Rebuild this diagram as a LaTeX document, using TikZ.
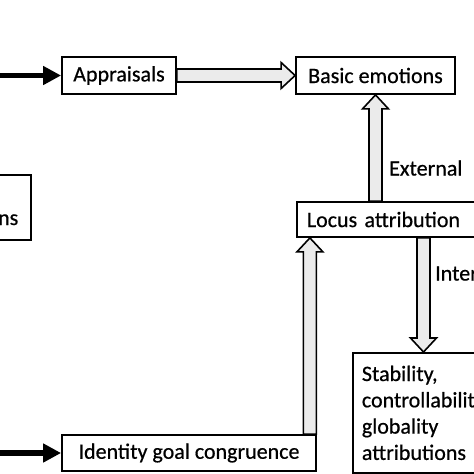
\documentclass[tikz,border=0pt]{standalone}
\usepackage{fontspec}
\setmainfont{Carlito}[FakeBold=0.6]
\usetikzlibrary{calc,arrows.meta}
\tikzset{
  box/.style={draw=black, line width=1.8pt, fill=white, inner sep=0pt, font=\fontsize{22}{26.3}\selectfont},
  hollow/.style={draw=black, line width=1.6pt, fill=black!8, line join=miter},
  thick arrow/.style={draw=black, line width=5.5pt, -{Triangle[length=18pt, width=18pt]}},
  lbl/.style={inner sep=0pt, font=\fontsize{22}{26.3}\selectfont},
}
\newcommand\hollowarrow[2]{%
  \coordinate (ha-b) at ($(#2)!14pt!(#1)$);
  \draw[hollow] ($(#1)!6.5pt!90:(#2)$) -- ($(ha-b)!6.5pt!90:(#2)$) -- ($(ha-b)!13pt!90:(#2)$) -- (#2)
     -- ($(ha-b)!13pt!-90:(#2)$) -- ($(ha-b)!6.5pt!-90:(#2)$) -- ($(#1)!6.5pt!-90:(#2)$) -- cycle;}
\begin{document}
\begin{tikzpicture}[x=1pt,y=-1pt]
\useasboundingbox (0,0) rectangle (474,474);
\clip (0,0) rectangle (474,474);
\fill[white] (0,0) rectangle (474,474);
% boxes
\node[box, minimum width=114pt, minimum height=37pt] (app) at (119,75.5) {Appraisals};
\node[box, minimum width=159pt, minimum height=37pt] (be) at (375.5,75.5) {Basic emotions};
\node[box, anchor=west, minimum height=35pt, text width=180pt, align=left, inner xsep=10pt] (loc) at (296,219.5) {Locus attribution};
\node[box, minimum width=254pt, minimum height=36pt] (idg) at (189,453) {Identity goal congruence};
\node[box, anchor=north west, minimum height=120pt, text width=150pt, align=left, inner xsep=9pt] (stab) at (352,352) {Stability,\\controllability,\\globality\\attributions};
\node[box, anchor=east, minimum width=140pt, minimum height=65pt] (left) at (32,207.5) {};
\node[lbl, anchor=base east] (ns) at (18.5,225) {ns};
% labels
\node[lbl, anchor=west] (ext) at (389,168) {External};
\node[lbl, anchor=west] (int) at (435,273) {Internal};
% input arrows
\coordinate (in1) at (-10,75.5);
\coordinate (in2) at (-10,453);
\draw[thick arrow] (in1) -- (app.west);
\draw[thick arrow] (in2) -- (idg.west);
% hollow arrows
\hollowarrow{app.east}{be.west}
\hollowarrow{be.south |- loc.north}{be.south}
\coordinate (up1s) at ([xshift=-7pt]idg.north east);
\coordinate (up1e) at (up1s |- loc.south);
\hollowarrow{up1s}{up1e}
\coordinate (dn1e) at ([xshift=71.5pt]stab.north west);
\coordinate (dn1s) at (dn1e |- loc.south);
\hollowarrow{dn1s}{dn1e}
\end{tikzpicture}
\end{document}
